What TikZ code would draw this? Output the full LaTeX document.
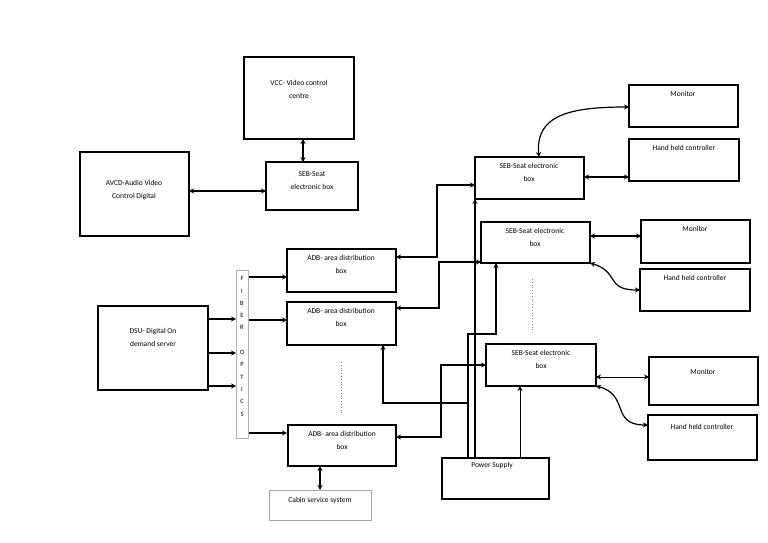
\documentclass[tikz,border=0pt]{standalone}
\usepackage{fontspec}
\setmainfont{Carlito}
\usetikzlibrary{arrows.meta}
\begin{document}
\begin{tikzpicture}[x=1pt,y=-1pt,
  bx/.style={draw,line width=1.3pt},
  lbl/.style={font=\fontsize{7.5}{13}\selectfont,align=center,anchor=north},
  ln/.style={line width=1.2pt,-{Stealth[length=5pt,width=5pt]}},
  dl/.style={line width=1.2pt,{Stealth[length=5pt,width=5pt]}-{Stealth[length=5pt,width=5pt]}},
  dot/.style={gray,dotted,line width=0.8pt}]
\useasboundingbox (0,0) rectangle (768,543);
% boxes
\draw[bx] (244,57) rectangle (354,139) coordinate (vccBR); \node[lbl] (vcc) at (299,77) {VCC- Video control\\centre};
\draw[bx] (266,162) rectangle (358,210); \node[lbl] (seb0) at (312,168) {SEB-Seat\\electronic box};
\draw[bx] (80,152) rectangle (189,236); \node[lbl] (avcd) at (134,177) {AVCD-Audio Video\\Control Digital};
\draw[bx] (98,306) rectangle (208,390); \node[lbl] (dsu) at (153,325) {DSU- Digital On\\demand server};
\draw[gray!60,line width=0.6pt] (236,270) rectangle (248,438);
\node[font=\fontsize{6.5}{12.3}\selectfont,align=center,anchor=north] (fib) at (242,273) {F\\I\\B\\E\\R\\\\O\\P\\T\\I\\C\\S};
\draw[bx] (287,249) rectangle (396,292); \node[lbl] (adb1) at (341,252) {ADB- area distribution\\box};
\draw[bx] (287,302) rectangle (396,345); \node[lbl] (adb2) at (341,305) {ADB- area distribution\\box};
\draw[bx] (288,425) rectangle (396,466); \node[lbl] (adb3) at (342,428) {ADB- area distribution\\box};
\draw[gray!70,line width=0.8pt] (269,490) rectangle (371,520); \node[lbl] (cab) at (320,494) {Cabin service system};
\draw[bx] (442,458) rectangle (549,499); \node[lbl] (pow) at (492,459) {Power Supply};
\draw[bx] (475,157) rectangle (584,199); \node[lbl] (seb1) at (529,160) {SEB-Seat electronic\\box};
\draw[bx] (481,222) rectangle (590,263); \node[lbl] (seb2) at (535,225) {SEB-Seat electronic\\box};
\draw[bx] (486,344) rectangle (596,386); \node[lbl] (seb3) at (541,347) {SEB-Seat electronic\\box};
\draw[bx] (629,85) rectangle (738,127); \node[lbl] (m1) at (683,88) {Monitor};
\draw[bx] (629,139) rectangle (739,181); \node[lbl] (h1) at (684,142) {Hand held controller};
\draw[bx] (641,220) rectangle (750,263); \node[lbl] (m2) at (695,223) {Monitor};
\draw[bx] (640,269) rectangle (750,311); \node[lbl] (h2) at (695,272) {Hand held controller};
\draw[bx] (649,357) rectangle (758,405); \node[lbl] (m3) at (703,366) {Monitor};
\draw[bx] (648,415) rectangle (757,460); \node[lbl] (h3) at (702,421) {Hand held controller};
% connectors
\draw[dl,line width=1.6pt] (303,139) -- (303,162);
\draw[dl] (189,191) -- (266,191);
\foreach \y in {319,353,386} \draw[ln] (208,\y) -- (236,\y);
\foreach \y in {277,320,433} \draw[ln] (249,\y) -- (287,\y);
\draw[dl] (396,257) -- (437,257) -- (437,185) -- (475,185);
\draw[dl] (396,308) -- (439,308) -- (439,262) -- (481,262);
\draw[dl] (396,437) -- (441,437) -- (441,365) -- (486,365);
\draw[ln] (468,458) -- (468,403) -- (383,403) -- (383,345);
\draw[ln] (468,403) -- (468,334) -- (496,334) -- (496,263);
\draw[ln] (475,458) -- (475,199);
\draw[-{Stealth[length=5pt,width=5pt]},line width=0.8pt] (520,458) -- (520,386);
\draw[dl] (539,157) .. controls (535,115) and (570,107) .. (629,107);
\draw[dl] (584,177) -- (629,177);
\draw[dl] (590,236) -- (641,236);
\draw[dl] (590,263) .. controls (620,272) and (605,290) .. (640,290);
\draw[dl,line width=0.9pt] (596,377) -- (649,377);
\draw[dl] (596,386) .. controls (630,395) and (610,425) .. (648,425);
\draw[dl,line width=1.6pt] (320,466) -- (320,490);
\draw[dot] (341,362) -- (341,415);
\draw[dot] (532,279) -- (532,332);
\end{tikzpicture}
\end{document}
